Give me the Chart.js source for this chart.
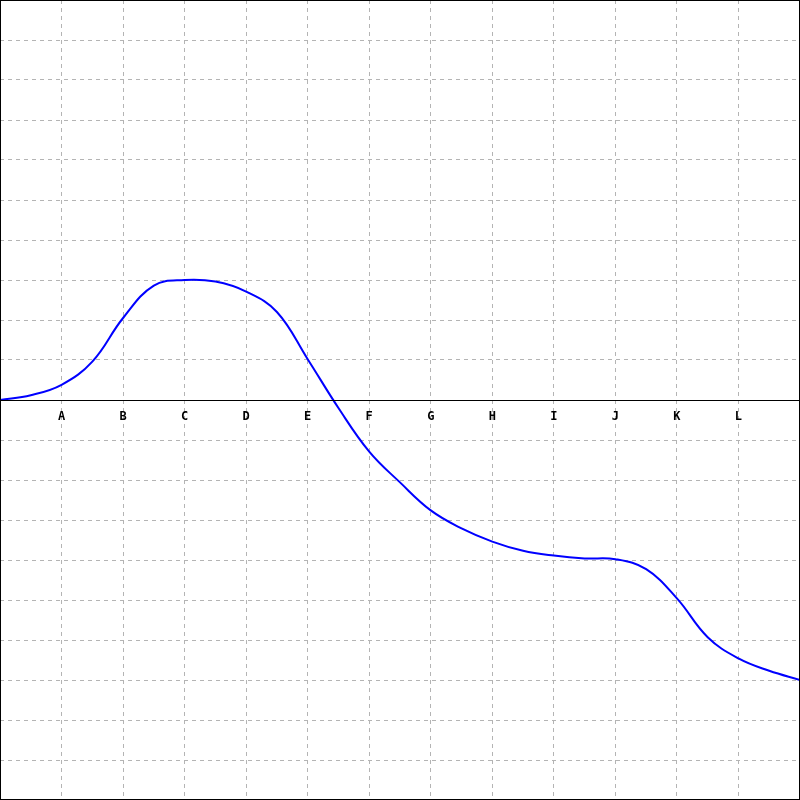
<!DOCTYPE html>
<html>
<head>
<meta charset="utf-8">
<script src="https://cdn.jsdelivr.net/npm/chart.js@4.4.1/dist/chart.umd.min.js"></script>
<style>
    html, body { margin: 0; padding: 0; background: #fff; }
    #wrap { width: 800px; height: 800px; }
</style>
</head>
<body>
<div id="wrap"><canvas id="curveChart" width="800" height="800"></canvas></div>
<script>
// Rótulos das categorias (posições 1..12 no eixo x)
const categories = ['A', 'B', 'C', 'D', 'E', 'F', 'G', 'H', 'I', 'J', 'K', 'L'];

// Pontos
const xValues = [0, 0.5, 1, 1.5, 2, 2.5, 3, 3.5, 4, 4.5, 5, 5.5, 6, 6.5,
                 7, 7.5, 8, 8.5, 9, 9.5, 10, 10.5, 11, 11.5, 12, 12.5, 13];
const yValues = [0.0, 0.12, 0.38, 0.96, 2.05, 2.86, 3.0, 2.96, 2.71, 2.2, 1.02, -0.2, -1.29, -2.06,
                 -2.76, -3.21, -3.54, -3.77, -3.89, -3.96, -3.98, -4.23, -4.96, -5.93, -6.46, -6.77, -7.0];

// Linha do zero e moldura preta
const framePlugin = {
    id: 'frame',
    afterDraw(chart) {
        const ctx = chart.ctx;
        const area = chart.chartArea;
        const y0 = Math.round(chart.scales.y.getPixelForValue(0)) + 0.5;
        ctx.save();
        ctx.strokeStyle = '#000';
        ctx.lineWidth = 1;
        ctx.setLineDash([]);
        ctx.beginPath();
        ctx.moveTo(area.left, y0);
        ctx.lineTo(area.right, y0);
        ctx.stroke();
        ctx.strokeRect(0.5, 0.5, chart.width - 1, chart.height - 1);
        ctx.restore();
    }
};

document.addEventListener('DOMContentLoaded', () => {
    const points = xValues.map((x, i) => ({ x: x, y: yValues[i] }));
    const gridStyle = {
        color: '#b4b4b4',
        lineWidth: 1,
        drawTicks: false
    };

    new Chart(document.getElementById('curveChart').getContext('2d'), {
        type: 'line',
        data: {
            datasets: [{
                data: points,
                borderColor: '#0000ff',
                borderWidth: 2,
                pointRadius: 0,
                fill: false,
                tension: 0.4
            }]
        },
        options: {
            responsive: false,
            animation: false,
            devicePixelRatio: 1,
            layout: { padding: 0, autoPadding: false },
            plugins: {
                legend: { display: false },
                tooltip: { enabled: false }
            },
            scales: {
                x: {
                    type: 'linear',
                    position: { y: 0 },
                    min: 0,
                    max: 13,
                    grid: gridStyle,
                    border: { display: false, dash: [4, 4] },
                    ticks: {
                        stepSize: 1,
                        autoSkip: false,
                        maxRotation: 0,
                        padding: 0,
                        color: '#000',
                        font: { family: 'DejaVu Sans Mono', size: 12, weight: 'bold', lineHeight: '34px' },
                        callback: v => categories[v - 1] || ''
                    }
                },
                y: {
                    type: 'linear',
                    min: -10,
                    max: 10,
                    grid: gridStyle,
                    border: { display: false, dash: [4, 4] },
                    ticks: { display: false, stepSize: 1 }
                }
            }
        },
        plugins: [framePlugin]
    });
});
</script>
</body>
</html>
